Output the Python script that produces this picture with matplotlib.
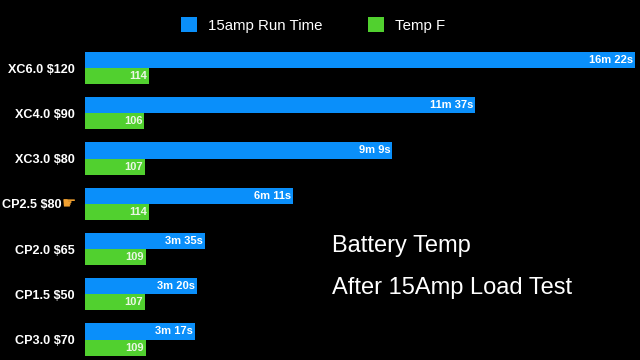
import matplotlib
matplotlib.use('Agg')
import matplotlib.pyplot as plt
import numpy as np

plt.rcParams['font.family'] = ['Liberation Sans', 'DejaVu Sans']

models = ['XC6.0 $120', 'XC4.0 $90', 'XC3.0 $80', 'CP2.5 $80', 'CP2.0 $65', 'CP1.5 $50', 'CP3.0 $70']
run_seconds = [982, 697, 549, 371, 215, 200, 197]
run_labels = ['16m 22s', '11m 37s', '9m 9s', '6m 11s', '3m 35s', '3m 20s', '3m 17s']
temp_f = [114, 106, 107, 114, 109, 107, 109]

BLUE = '#0A8FFA'
GREEN = '#51D02F'

fig = plt.figure(figsize=(6.4, 3.6), dpi=100, facecolor='black')
ax = fig.add_axes([85 / 640, 0, 555 / 640, 1])
ax.set_facecolor('black')

y = np.arange(len(models))
bar_h = 0.355
bars_run = ax.barh(y - bar_h / 2, run_seconds, bar_h, color=BLUE, label='15amp Run Time')
bars_temp = ax.barh(y + bar_h / 2, temp_f, bar_h, color=GREEN, label='Temp F')

ax.bar_label(bars_run, labels=run_labels, padding=-1.5, color='white', fontsize=8, fontweight='bold')
ax.bar_label(bars_temp, labels=[str(t) for t in temp_f], padding=-1.5, color='#EAF7E4', fontsize=8, fontweight='bold')
# bar_label anchors left of the edge with negative padding, so flip to right aligned
for txt in ax.texts:
    txt.set_ha('right')

ax.set_xlim(0, 991)
ax.set_ylim(6.453, -1.503)
ax.set_xticks([])
ax.set_yticks(y)
ax.set_yticklabels(models, color='white', fontsize=9.1, fontweight='bold')
ax.tick_params(axis='y', length=0, pad=7.2)
ax.yaxis.get_major_ticks()[3].set_pad(16.5)
for s in ax.spines.values():
    s.set_visible(False)

# pointing hand next to the CP2.5 row
fig.text(61.5 / 640, 1 - 204 / 360, '\u261b', color='#F0A030', fontsize=11.5, family='DejaVu Sans', ha='left', va='center')

fig.legend(handles=[bars_run, bars_temp], loc='center left', bbox_to_anchor=(181 / 640, 1 - 25 / 360),
           ncol=2, frameon=False, labelcolor='white', fontsize=10.8, handlelength=1.07, handleheight=1.07,
           handletextpad=0.73, columnspacing=3.05, borderpad=0, borderaxespad=0)

fig.text(332 / 640, 1 - 246 / 360, 'Battery Temp', color='white', fontsize=17, va='center', ha='left')
fig.text(332 / 640, 1 - 288 / 360, 'After 15Amp Load Test', color='white', fontsize=17, va='center', ha='left')

fig.savefig('out.png', dpi=100, facecolor='black')
